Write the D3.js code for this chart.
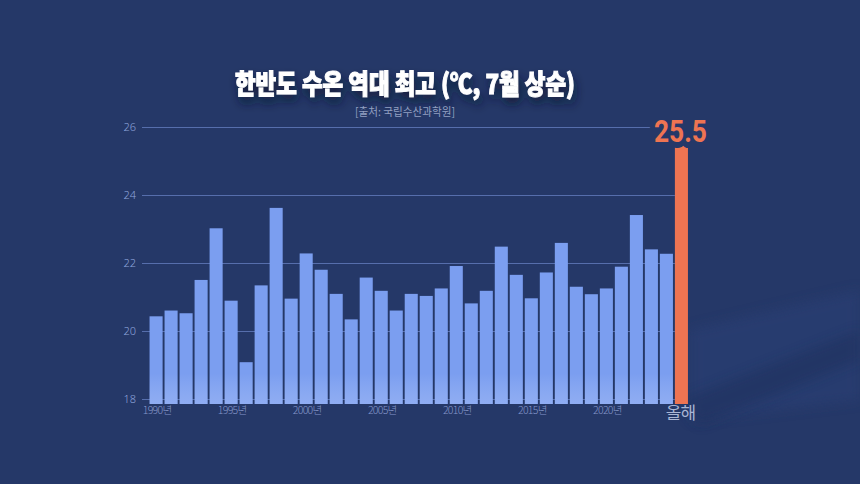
<!DOCTYPE html>
<html><head><meta charset="utf-8">
<script src="https://cdn.jsdelivr.net/npm/d3@7"></script>
<style>
html,body{margin:0;padding:0;background:#243769;overflow:hidden}
</style></head>
<body>
<svg id="c" width="860" height="484"></svg>
<script>
const years = ["1990","1991","1992","1993","1994","1995","1996","1997","1998","1999",
  "2000","2001","2002","2003","2004","2005","2006","2007","2008","2009",
  "2010","2011","2012","2013","2014","2015","2016","2017","2018","2019",
  "2020","2021","2022","2023","2024"];
const values = [20.43,20.60,20.52,21.50,23.02,20.89,19.08,21.34,23.62,20.95,
  22.28,21.80,21.09,20.34,21.57,21.18,20.60,21.09,21.03,21.25,
  21.91,20.81,21.18,22.48,21.65,20.96,21.72,22.59,21.30,21.08,
  21.25,21.89,23.41,22.40,22.27];
const thisYearLabel = "올해";
const thisYearValue = 25.5;
const yTicks = [18,20,22,24,26];
const xTickYears = ["1990","1995","2000","2005","2010","2015","2020"];
const titleText = "한반도 수온 역대 최고 (℃, 7월 상순)";
const sourceText = "[출처: 국립수산과학원]";

const svg = d3.select("#c");
const defs = svg.append("defs");
const sh = defs.append("filter").attr("id","sh").attr("x","-20%").attr("y","-50%").attr("width","140%").attr("height","220%");
sh.append("feDropShadow").attr("dx",2).attr("dy",6).attr("stdDeviation",5).attr("flood-color","#0b1530").attr("flood-opacity",0.8);
const glow = defs.append("linearGradient").attr("id","glow").attr("x1",0).attr("y1",0).attr("x2",0).attr("y2",1);
glow.append("stop").attr("offset","0%").attr("stop-color","#ffffff").attr("stop-opacity",0);
glow.append("stop").attr("offset","100%").attr("stop-color","#dfe8ff").attr("stop-opacity",0.2);
const blur = defs.append("filter").attr("id","blur").attr("x","-20%").attr("y","-20%").attr("width","140%").attr("height","140%");
blur.append("feGaussianBlur").attr("stdDeviation",6);

svg.append("rect").attr("width",860).attr("height",484).attr("fill","#253868");
// subtle lighter panel and shadow bottom-right
svg.append("path").attr("d","M690,330 L860,290 L860,400 L690,420 Z").attr("fill","#2b4076").attr("opacity",0.55).attr("filter","url(#blur)");
svg.append("path").attr("d","M680,400 L860,330 L860,360 L700,425 Z").attr("fill","#1d2d5a").attr("opacity",0.45).attr("filter","url(#blur)");

const cats = years.concat([thisYearLabel]);
const allVals = values.concat([thisYearValue]);

const x = d3.scaleBand().domain(cats).range([148.5,689]).paddingInner(0.13).paddingOuter(0.07);
const y = d3.scaleLinear().domain([17.85,26]).range([404,127]);

// gridlines
const gridX1 = 142, gridX2 = x(thisYearLabel);
svg.append("g").selectAll("line").data(yTicks).join("line")
  .attr("x1",gridX1).attr("x2",gridX2)
  .attr("y1",d=>Math.round(y(d))+0.5).attr("y2",d=>Math.round(y(d))+0.5)
  .attr("stroke","#5f78b8").attr("stroke-width",1).attr("opacity",0.85);
svg.append("g").selectAll("text").data(yTicks).join("text")
  .attr("x",136).attr("y",d=>y(d)+4)
  .attr("text-anchor","end")
  .attr("font-family","'Noto Sans', 'Noto Sans CJK KR', sans-serif")
  .attr("font-size",11).attr("font-weight",300)
  .attr("fill","#8ea4dc").text(d=>d);

// bars
svg.append("g").selectAll("rect").data(cats).join("rect")
  .attr("x",d=>x(d)).attr("width",x.bandwidth())
  .attr("y",(d,i)=>y(allVals[i]))
  .attr("height",(d,i)=>y(17.85)-y(allVals[i]))
  .attr("fill",d=>d===thisYearLabel?"#ee7452":"#7b9ef0");
svg.append("g").selectAll("rect").data(years).join("rect")
  .attr("x",d=>x(d)).attr("width",x.bandwidth())
  .attr("y",y(18.75)).attr("height",y(17.85)-y(18.75))
  .attr("fill","url(#glow)");

// x labels
svg.append("g").selectAll("text").data(xTickYears).join("text")
  .attr("x",d=>x(d)+x.bandwidth()/2+1).attr("y",414)
  .attr("text-anchor","middle")
  .attr("font-family","'Noto Sans CJK KR', sans-serif")
  .attr("font-size",10.5).attr("font-weight",300).attr("letter-spacing",-0.7)
  .attr("fill","#8597ca").text(d=>d+"년");

svg.append("text").attr("x",x(thisYearLabel)+x.bandwidth()/2-1).attr("y",419)
  .attr("text-anchor","middle")
  .attr("font-family","'Noto Sans CJK KR', sans-serif")
  .attr("font-size",17).attr("font-weight",400).attr("letter-spacing",-1)
  .attr("fill","#a9b5d4").text(thisYearLabel);

// value label
svg.append("text").attr("x",x(thisYearLabel)+x.bandwidth()/2-1).attr("y",142)
  .attr("text-anchor","middle")
  .attr("font-family","'Roboto', sans-serif")
  .attr("font-size",32).attr("font-weight",700)
  .attr("textLength",53).attr("lengthAdjust","spacingAndGlyphs")
  .attr("stroke","#253868").attr("stroke-width",12).attr("paint-order","stroke")
  .attr("fill","#ee7452").text(thisYearValue.toFixed(1));

// title
svg.append("text").attr("x",405).attr("y",94)
  .attr("text-anchor","middle")
  .attr("font-family","'Noto Sans CJK KR', sans-serif")
  .attr("font-size",27).attr("font-weight",900)
  .attr("textLength",340).attr("lengthAdjust","spacingAndGlyphs")
  .attr("stroke","#ffffff").attr("stroke-width",1)
  .attr("fill","#ffffff").attr("filter","url(#sh)").text(titleText);
svg.append("text").attr("x",405).attr("y",116)
  .attr("text-anchor","middle")
  .attr("font-family","'Noto Sans CJK KR', sans-serif")
  .attr("font-size",11.5).attr("font-weight",400)
  .attr("textLength",100).attr("lengthAdjust","spacingAndGlyphs")
  .attr("fill","#93a0c2").text(sourceText);
</script>
</body></html>
